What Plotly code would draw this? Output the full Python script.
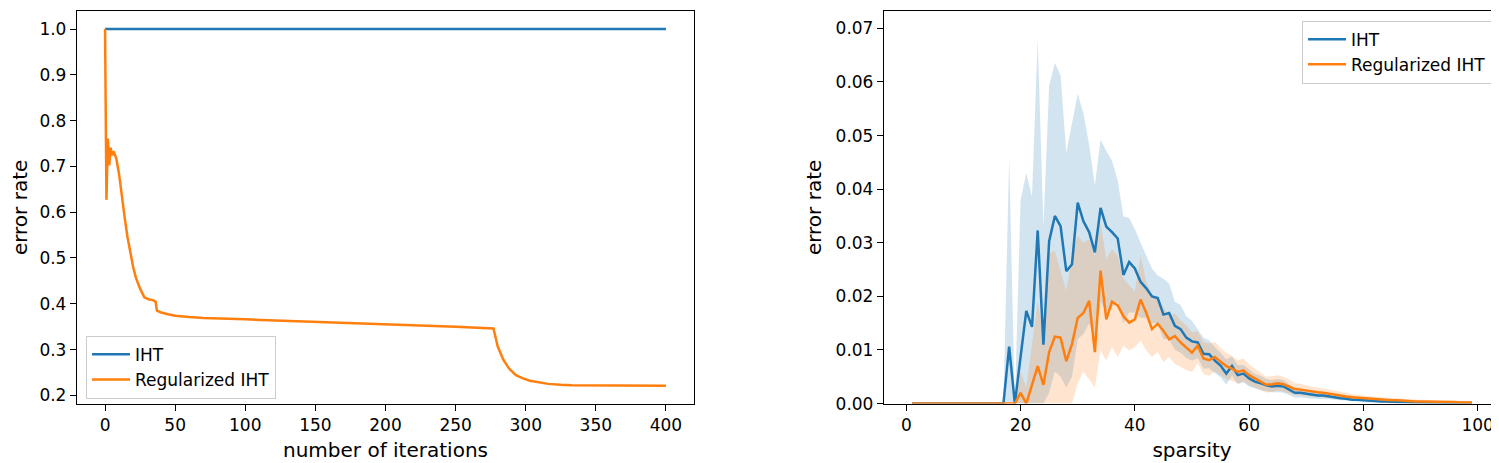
import plotly.graph_objects as go

# ---- left panel: error rate vs iterations ----
iters_iht = [0, 400]
err_iht = [1.0, 1.0]

iters_reg = [0, 1, 2, 3, 4, 5, 6, 7, 8, 10, 12, 14, 16, 18, 20, 22, 25, 28, 31, 34, 36, 37,
             40, 45, 50, 60, 70, 100, 150, 200, 250, 277, 280, 284, 288, 293, 298, 303,
             310, 316, 325, 333, 400]
err_reg = [1.0, 0.627, 0.761, 0.702, 0.741, 0.724, 0.733, 0.727, 0.718, 0.683, 0.632, 0.588,
           0.546, 0.510, 0.481, 0.457, 0.433, 0.414, 0.410, 0.408, 0.405, 0.385,
           0.381, 0.377, 0.374, 0.371, 0.369, 0.366, 0.361, 0.356, 0.350, 0.346, 0.307, 0.278,
           0.259, 0.244, 0.237, 0.232, 0.228, 0.225, 0.223, 0.222, 0.221]

# ---- right panel: error rate vs sparsity ----
sparsity = list(range(1, 100))

iht_mean = [0.0] * 17 + [
    0.0106, 0.0, 0.0087, 0.0173, 0.0143, 0.0323, 0.0110, 0.0303, 0.0350, 0.0331,   # 18-27
    0.0247, 0.0260, 0.0375, 0.0340, 0.0320, 0.0282, 0.0365, 0.0330, 0.0320, 0.0308,  # 28-37
    0.0240, 0.0264, 0.0252, 0.0227, 0.0215, 0.0200, 0.0197, 0.0166, 0.0169, 0.0145,  # 38-47
    0.0139, 0.0123, 0.0116, 0.0114, 0.0093, 0.0092, 0.0080, 0.0071, 0.0056, 0.0070,  # 48-57
    0.0053, 0.0056, 0.0047, 0.0041, 0.0038, 0.0034, 0.0032, 0.0033, 0.0032, 0.0026,  # 58-67
    0.0020, 0.0020, 0.0018, 0.0016, 0.0015, 0.0015, 0.0013, 0.0012, 0.0010, 0.0009,  # 68-77
    0.0007, 0.0007, 0.0006, 0.0005, 0.0005, 0.0004, 0.0004, 0.0003, 0.0003, 0.0003,  # 78-87
    0.0002, 0.0002, 0.0002, 0.0002, 0.0001, 0.0001, 0.0001, 0.0001, 0.0001, 0.0001,  # 88-97
    0.0001, 0.0001]                                                                  # 98-99

iht_upper = [0.0] * 17 + [
    0.0459, 0.0, 0.0380, 0.0430, 0.0386, 0.0680, 0.0330, 0.0593, 0.0636, 0.0612,
    0.0468, 0.0520, 0.0578, 0.0541, 0.0483, 0.0407, 0.0492, 0.0471, 0.0453, 0.0416,
    0.0349, 0.0346, 0.0325, 0.0300, 0.0276, 0.0252, 0.0239, 0.0233, 0.0224, 0.0190,
    0.0184, 0.0163, 0.0154, 0.0139, 0.0123, 0.0118, 0.0105, 0.0095, 0.0082, 0.0088,
    0.0072, 0.0072, 0.0063, 0.0055, 0.0052, 0.0046, 0.0044, 0.0046, 0.0044, 0.0036,
    0.0030, 0.0029, 0.0026, 0.0023, 0.0021, 0.0021, 0.0018, 0.0017, 0.0014, 0.0013,
    0.0010, 0.0010, 0.0009, 0.0008, 0.0007, 0.0006, 0.0006, 0.0005, 0.0005, 0.0004,
    0.0004, 0.0003, 0.0003, 0.0003, 0.0002, 0.0002, 0.0002, 0.0002, 0.0002, 0.0001,
    0.0001, 0.0001]

iht_lower = [0.0] * 24 + [
    0.0020, 0.0060, 0.0050, 0.0030, 0.0050, 0.0120, 0.0130, 0.0150, 0.0120, 0.0190,  # 25-34
    0.0170, 0.0180, 0.0190, 0.0150, 0.0170, 0.0170, 0.0160, 0.0160, 0.0150, 0.0150,  # 35-44
    0.0120, 0.0120, 0.0100, 0.0095, 0.0085, 0.0080, 0.0085, 0.0065, 0.0066, 0.0057,  # 45-54
    0.0049, 0.0035, 0.0052, 0.0036, 0.0040, 0.0032, 0.0028, 0.0025, 0.0023, 0.0021,  # 55-64
    0.0021, 0.0020, 0.0016, 0.0011, 0.0012, 0.0010, 0.0009, 0.0009, 0.0009, 0.0008,  # 65-74
    0.0007, 0.0006, 0.0005, 0.0004, 0.0004, 0.0003, 0.0002, 0.0003, 0.0002, 0.0002,  # 75-84
    0.0001, 0.0001, 0.0001, 0.0001, 0.0001, 0.0001, 0.0001, 0.0, 0.0, 0.0,           # 85-94
    0.0, 0.0, 0.0, 0.0, 0.0]                                                         # 95-99

reg_mean = [0.0] * 19 + [
    0.0020, 0.0, 0.0035, 0.0070, 0.0035, 0.0096, 0.0125, 0.0123, 0.0079, 0.0111,     # 20-29
    0.0160, 0.0169, 0.0192, 0.0096, 0.0248, 0.0157, 0.0190, 0.0183, 0.0163, 0.0151,  # 30-39
    0.0157, 0.0194, 0.0169, 0.0139, 0.0149, 0.0136, 0.0120, 0.0126, 0.0114, 0.0105,  # 40-49
    0.0095, 0.0108, 0.0084, 0.0081, 0.0087, 0.0078, 0.0070, 0.0065, 0.0059, 0.0062,  # 50-59
    0.0053, 0.0047, 0.0041, 0.0035, 0.0036, 0.0038, 0.0036, 0.0032, 0.0027, 0.0026,  # 60-69
    0.0024, 0.0022, 0.0021, 0.0020, 0.0018, 0.0016, 0.0015, 0.0013, 0.0012, 0.0011,  # 70-79
    0.0010, 0.0009, 0.0008, 0.0007, 0.0006, 0.0006, 0.0006, 0.0005, 0.0005, 0.0004,  # 80-89
    0.0004, 0.0004, 0.0004, 0.0003, 0.0003, 0.0003, 0.0003, 0.0002, 0.0002, 0.0002]  # 90-99

reg_upper = [0.0] * 19 + [
    0.0060, 0.0030, 0.0110, 0.0190, 0.0130, 0.0280, 0.0285, 0.0245, 0.0210, 0.0276,
    0.0313, 0.0300, 0.0306, 0.0276, 0.0337, 0.0270, 0.0288, 0.0276, 0.0233, 0.0221,
    0.0209, 0.0276, 0.0227, 0.0203, 0.0195, 0.0180, 0.0165, 0.0168, 0.0155, 0.0145,
    0.0133, 0.0135, 0.0115, 0.0112, 0.0115, 0.0104, 0.0095, 0.0089, 0.0081, 0.0084,
    0.0073, 0.0065, 0.0058, 0.0050, 0.0051, 0.0053, 0.0050, 0.0045, 0.0038, 0.0037,
    0.0034, 0.0031, 0.0030, 0.0028, 0.0026, 0.0023, 0.0022, 0.0019, 0.0018, 0.0016,
    0.0015, 0.0014, 0.0012, 0.0011, 0.0010, 0.0010, 0.0010, 0.0009, 0.0008, 0.0007,
    0.0007, 0.0007, 0.0006, 0.0005, 0.0005, 0.0005, 0.0005, 0.0004, 0.0004, 0.0003]

reg_lower = [0.0] * 29 + [
    0.0038, 0.0060, 0.0045, 0.0030, 0.0099, 0.0080, 0.0105, 0.0087, 0.0108, 0.0099,  # 30-39
    0.0105, 0.0117, 0.0099, 0.0087, 0.0096, 0.0077, 0.0087, 0.0074, 0.0068, 0.0062,  # 40-49
    0.0059, 0.0075, 0.0055, 0.0052, 0.0060, 0.0053, 0.0046, 0.0042, 0.0038, 0.0041,  # 50-59
    0.0034, 0.0030, 0.0025, 0.0020, 0.0022, 0.0024, 0.0022, 0.0019, 0.0016, 0.0015,  # 60-69
    0.0014, 0.0013, 0.0012, 0.0012, 0.0010, 0.0009, 0.0008, 0.0007, 0.0006, 0.0006,  # 70-79
    0.0005, 0.0004, 0.0004, 0.0003, 0.0002, 0.0002, 0.0002, 0.0001, 0.0001, 0.0001,  # 80-89
    0.0001, 0.0001, 0.0001, 0.0001, 0.0001, 0.0001, 0.0001, 0.0001, 0.0001, 0.0001]  # 90-99

BLUE = "#1f77b4"
ORANGE = "#ff7f0e"
FONT = "DejaVu Sans"
W, H = 1499, 463

fig = go.Figure()

# left panel
fig.add_trace(go.Scatter(x=iters_iht, y=err_iht, mode="lines", name="IHT",
                         line=dict(color=BLUE, width=2.5), xaxis="x", yaxis="y", legend="legend"))
fig.add_trace(go.Scatter(x=iters_reg, y=err_reg, mode="lines", name="Regularized IHT",
                         line=dict(color=ORANGE, width=2.5), xaxis="x", yaxis="y", legend="legend"))

# right panel: shaded bands
for lo, hi, col in [(iht_lower, iht_upper, "rgba(31,119,180,0.2)"),
                    (reg_lower, reg_upper, "rgba(255,127,14,0.2)")]:
    fig.add_trace(go.Scatter(x=sparsity, y=lo, mode="lines", line=dict(width=0),
                             showlegend=False, hoverinfo="skip", xaxis="x2", yaxis="y2"))
    fig.add_trace(go.Scatter(x=sparsity, y=hi, mode="lines", line=dict(width=0),
                             fill="tonexty", fillcolor=col, showlegend=False,
                             hoverinfo="skip", xaxis="x2", yaxis="y2"))

fig.add_trace(go.Scatter(x=sparsity, y=iht_mean, mode="lines", name="IHT",
                         line=dict(color=BLUE, width=2.5), xaxis="x2", yaxis="y2", legend="legend2"))
fig.add_trace(go.Scatter(x=sparsity, y=reg_mean, mode="lines", name="Regularized IHT",
                         line=dict(color=ORANGE, width=2.5), xaxis="x2", yaxis="y2", legend="legend2"))

ydom = [1 - 404.3 / H, 1 - 3.3 / H]
axis_common = dict(showline=True, mirror=True, linecolor="black", linewidth=1.3,
                   ticks="outside", ticklen=6, tickwidth=1.3, tickcolor="black",
                   showgrid=False, zeroline=False,
                   tickfont=dict(family=FONT, size=17, color="black"))
legend_common = dict(bgcolor="rgba(255,255,255,0.8)", bordercolor="#cccccc", borderwidth=1,
                     itemwidth=38, traceorder="normal", tracegroupgap=0,
                     font=dict(family=FONT, size=17, color="black"))

fig.update_layout(
    width=W, height=H,
    margin=dict(l=0, r=0, t=0, b=0),
    paper_bgcolor="white", plot_bgcolor="white",
    font=dict(family=FONT, size=17, color="black"),
    xaxis=dict(domain=[69 / W, 686 / W], range=[-20, 420], tickvals=list(range(0, 401, 50)),
               title=dict(text="number of iterations", standoff=8), anchor="y", **axis_common),
    yaxis=dict(domain=ydom, range=[0.182, 1.039], tickvals=[0.2, 0.3, 0.4, 0.5, 0.6, 0.7, 0.8, 0.9, 1.0],
               tickformat=".1f", title=dict(text="error rate", standoff=8), anchor="x", **axis_common),
    xaxis2=dict(domain=[876 / W, 1492 / W], range=[-3.9, 103.9], tickvals=[0, 20, 40, 60, 80, 100],
                title=dict(text="sparsity", standoff=8), anchor="y2", **axis_common),
    yaxis2=dict(domain=ydom, range=[0, 0.0732], tickvals=[0, 0.01, 0.02, 0.03, 0.04, 0.05, 0.06, 0.07],
                tickformat=".2f", title=dict(text="error rate", standoff=8), anchor="x2", **axis_common),
    legend=dict(x=78 / W, y=1 - 335 / H, xanchor="left", yanchor="top", **legend_common),
    legend2=dict(x=1484 / W, y=1 - 13 / H, xanchor="right", yanchor="top", **legend_common),
)

fig.write_html("out.html")
